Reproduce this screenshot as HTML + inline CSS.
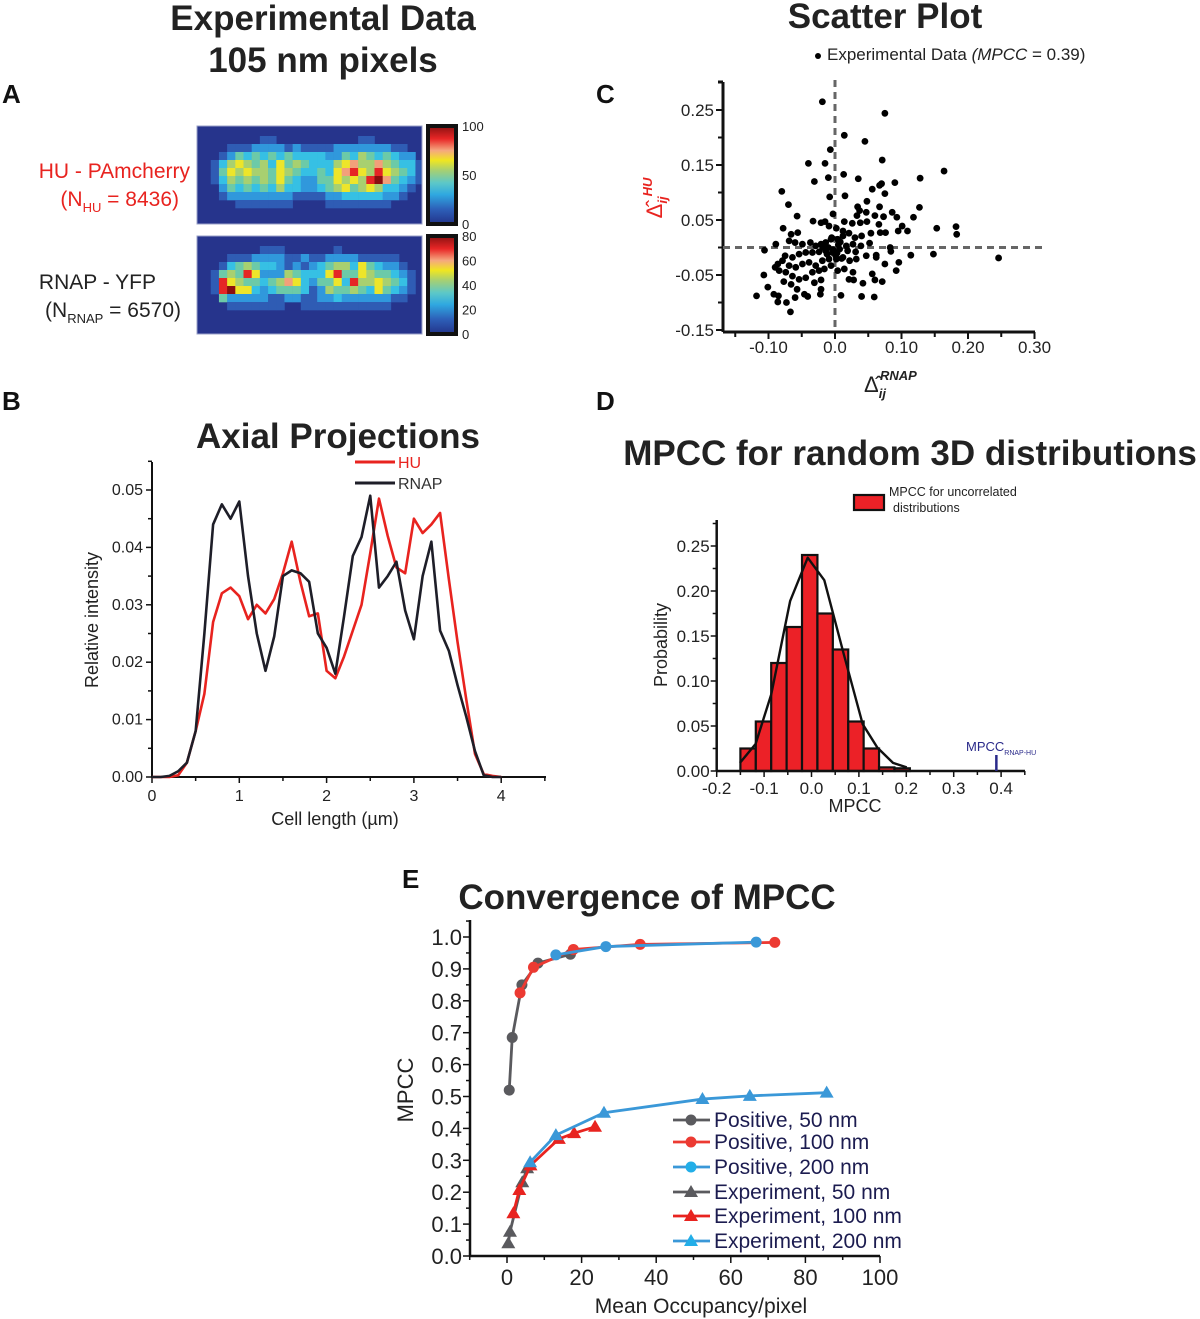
<!DOCTYPE html>
<html><head><meta charset="utf-8">
<style>
html,body{margin:0;padding:0;background:#fff;}
svg{display:block;font-family:"Liberation Sans",sans-serif;}
</style></head>
<body>
<svg id="fig" width="1200" height="1319" viewBox="0 0 1200 1319" xmlns="http://www.w3.org/2000/svg">
<defs>
<linearGradient id="jet" x1="0" y1="1" x2="0" y2="0">
<stop offset="0" stop-color="#23338a"/><stop offset="0.15" stop-color="#2d5fb8"/><stop offset="0.3" stop-color="#2fa8e0"/><stop offset="0.42" stop-color="#5cc8c8"/><stop offset="0.55" stop-color="#a8d070"/><stop offset="0.65" stop-color="#f0e620"/><stop offset="0.75" stop-color="#f5a880"/><stop offset="0.87" stop-color="#e82626"/><stop offset="1" stop-color="#8a1010"/>
</linearGradient>
<clipPath id="clipHU"><rect x="197" y="126" width="225" height="98"/></clipPath>
<clipPath id="clipRNAP"><rect x="197" y="236" width="225" height="98"/></clipPath>
</defs>
<g font-weight="bold" fill="#222" text-anchor="middle" font-size="35">
<text x="323" y="30">Experimental Data</text>
<text x="323" y="72">105 nm pixels</text>
<text x="885" y="28">Scatter Plot</text>
<text x="338" y="448">Axial Projections</text>
<text x="910" y="465">MPCC for random 3D distributions</text>
<text x="647" y="909">Convergence of MPCC</text>
</g>
<g font-weight="bold" fill="#111" font-size="26">
<text x="2" y="103">A</text>
<text x="2" y="410">B</text>
<text x="596" y="103">C</text>
<text x="596" y="410">D</text>
<text x="402" y="888">E</text>
</g>
<g font-size="21" text-anchor="end">
<text x="190" y="178" fill="#e8231f">HU - PAmcherry</text>
<text x="179" y="206" fill="#e8231f">(N<tspan font-size="13" dy="6">HU</tspan><tspan dy="-6"> = 8436)</tspan></text>
<text x="156" y="289" fill="#222">RNAP - YFP</text>
<text x="181" y="317" fill="#222">(N<tspan font-size="13" dy="6">RNAP</tspan><tspan dy="-6"> = 6570)</tspan></text>
</g>
<g id="panelA"></g>
<g id="panelB"></g>
<g id="panelC"></g>
<g id="panelD"></g>
<g id="panelE"></g>
</svg>
<script>
// ---------- Panel A heatmap data (level 0-9 per cell) ----------
const huRows = [
"00000000000000000000000000000000",
"00000000000000000000000000000000",
"00000000001100000000001100000000",
"00000011122221211112222222110000",
"00000124343434333322435434322000",
"00001356545364543335675575433100",
"00001465655465433436786586543100",
"00001354545464322446565897432100",
"00000243434353322345645653321000",
"00000122222222111122333332210000",
"00000001111111000011111111000000",
"00000000000000000000000000000000",
"00000000000000000000000000000000",
"00000000000000000000000000000000"];
const rnapRows = [
"00000000000000000000000000000000",
"00000000000000000000000000000000",
"00000000001110000001000000000000",
"00000011122221121122221111100000",
"00000134543321212345536432210000",
"00001454862225433368446544321000",
"00001865443457632446385565431000",
"00001896632344431254454364321000",
"00000422222112211223222222110000",
"00000011111110011111111111000000",
"00000000000000000000000000000000",
"00000000000000000000000000000000",
"00000000000000000000000000000000",
"00000000000000000000000000000000"];
const huTicks = ["100","50","0"];
const rnapTicks = ["80","60","40","20","0"];
// ---------- Panel B ----------
const bX = [0,0.1,0.2,0.3,0.4,0.5,0.6,0.7,0.8,0.9,1.0,1.1,1.2,1.3,1.4,1.5,1.6,1.7,1.8,1.9,2.0,2.1,2.2,2.3,2.4,2.5,2.6,2.7,2.8,2.9,3.0,3.1,3.2,3.3,3.4,3.5,3.6,3.7,3.8,3.9,4.0];
const huProj = [0,0,0,0.0003,0.0025,0.008,0.0145,0.027,0.032,0.033,0.0315,0.0275,0.030,0.0285,0.031,0.0355,0.041,0.034,0.028,0.0285,0.0185,0.0172,0.021,0.0255,0.030,0.039,0.0485,0.042,0.0365,0.0355,0.045,0.0425,0.044,0.046,0.0345,0.0235,0.0135,0.004,0.0005,0.0002,0];
const rnapProj = [0,0,0.0002,0.001,0.0025,0.008,0.025,0.044,0.0475,0.045,0.048,0.035,0.025,0.0185,0.0245,0.035,0.036,0.0355,0.034,0.025,0.0225,0.018,0.028,0.0385,0.0418,0.049,0.033,0.035,0.0375,0.029,0.024,0.035,0.041,0.0255,0.022,0.016,0.0105,0.0045,0.0003,0,0];
const bYTicks = [0,0.01,0.02,0.03,0.04,0.05];
const bXTicks = [0,1,2,3,4];
// ---------- Panel C ----------
const scX = [-0.019,0.075,0.014,0.045,-0.007,0.071,-0.040,-0.015,0.164,0.013,-0.010,-0.031,0.035,0.090,0.070,0.067,0.128,0.056,-0.080,0.075,-0.008,0.015,-0.070,0.048,0.127,0.067,0.034,0.037,0.086,-0.057,-0.003,0.033,0.047,0.060,0.073,0.118,0.093,-0.033,-0.021,-0.015,0.014,0.026,0.038,0.048,0.066,0.101,0.182,0.153,-0.078,-0.066,-0.056,-0.009,0.002,0.012,0.021,0.030,0.040,0.054,0.068,0.076,0.095,0.109,0.183,-0.089,-0.106,-0.069,-0.060,-0.049,-0.037,-0.029,-0.021,-0.014,-0.006,0.004,0.012,0.017,0.027,0.039,0.052,0.083,0.084,-0.075,-0.064,-0.054,-0.044,-0.034,-0.024,-0.014,-0.004,0.007,0.019,0.031,0.047,0.062,0.114,0.148,0.246,-0.086,-0.079,-0.069,-0.059,-0.049,-0.039,-0.029,-0.019,-0.009,0.002,0.012,0.022,0.032,0.062,0.075,0.096,0.092,-0.090,-0.107,-0.084,-0.074,-0.064,-0.054,-0.044,-0.034,-0.024,-0.016,-0.006,0.004,0.014,0.027,0.021,0.028,0.042,0.056,0.060,0.071,-0.101,-0.077,-0.066,-0.057,-0.046,-0.041,-0.031,-0.021,-0.021,-0.022,0.009,0.040,0.059,-0.118,-0.092,-0.085,-0.086,-0.073,-0.067,-0.060,-0.010,0.005,-0.003,0.008,-0.012,0.001,-0.005,0.010,-0.018,0.003];
const scY = [0.265,0.244,0.204,0.193,0.178,0.159,0.153,0.153,0.139,0.133,0.127,0.120,0.125,0.118,0.116,0.113,0.126,0.106,0.102,0.098,0.092,0.094,0.078,0.084,0.073,0.074,0.074,0.067,0.064,0.057,0.061,0.058,0.064,0.058,0.056,0.055,0.055,0.048,0.045,0.047,0.047,0.044,0.045,0.047,0.042,0.039,0.038,0.035,0.035,0.024,0.027,0.039,0.035,0.030,0.026,0.018,0.021,0.026,0.027,0.027,0.030,0.030,0.024,0.006,-0.005,0.012,0.009,0.006,0.009,0.003,0.006,0.009,0.015,0.015,0.021,0.003,0.006,0.003,0.008,0.000,-0.007,-0.015,-0.018,-0.012,-0.009,-0.009,-0.008,-0.006,-0.009,-0.003,-0.006,-0.008,-0.015,-0.014,-0.014,-0.012,-0.019,-0.030,-0.024,-0.033,-0.036,-0.030,-0.027,-0.033,-0.024,-0.021,-0.021,-0.018,-0.024,-0.021,-0.018,-0.030,-0.027,-0.042,-0.036,-0.050,-0.042,-0.045,-0.052,-0.058,-0.055,-0.045,-0.042,-0.039,-0.033,-0.042,-0.039,-0.045,-0.058,-0.059,-0.065,-0.048,-0.059,-0.062,-0.072,-0.062,-0.067,-0.076,-0.085,-0.089,-0.064,-0.059,-0.076,-0.085,-0.087,-0.089,-0.090,-0.088,-0.085,-0.088,-0.099,-0.100,-0.117,-0.091,0.000,0.005,-0.004,0.010,-0.012,-0.015,0.018,-0.020,0.000,-0.010];
const cYTicks = [0.25,0.15,0.05,-0.05,-0.15];
const cXTicks = [-0.10,0.0,0.10,0.20,0.30];
// ---------- Panel D ----------
const binStart = [-0.150,-0.1175,-0.085,-0.0525,-0.020,0.0125,0.045,0.0775,0.110,0.1425,0.175];
const binProb = [0.025,0.055,0.120,0.160,0.240,0.175,0.135,0.055,0.025,0.004,0.003];
const fitX = [-0.151,-0.118,-0.085,-0.045,-0.008,0.027,0.068,0.108,0.139,0.172,0.201];
const fitY = [0.009,0.030,0.085,0.189,0.237,0.212,0.130,0.052,0.026,0.009,0.004];
const dYTicks = [0,0.05,0.10,0.15,0.20,0.25];
const dXTicks = [-0.2,-0.1,0.0,0.1,0.2,0.3,0.4];
const mpccObserved = 0.39;
// ---------- Panel E ----------
const pos50X=[0.6,1.4,4.0,8.3,17], pos50Y=[0.52,0.685,0.85,0.918,0.946];
const pos100X=[3.5,7.1,17.8,35.7,71.8], pos100Y=[0.825,0.905,0.961,0.977,0.983];
const pos200X=[13.1,26.5,66.8], pos200Y=[0.944,0.970,0.984];
const exp50X=[0.35,0.8,4.1,5.4], exp50Y=[0.040,0.076,0.231,0.275];
const exp100X=[1.7,3.3,6.3,13.9,18,23.6], exp100Y=[0.134,0.207,0.284,0.367,0.385,0.405];
const exp200X=[6.2,13.1,26,52.4,65.1,85.7], exp200Y=[0.294,0.379,0.449,0.492,0.502,0.512];
const eYTicks=[0,0.1,0.2,0.3,0.4,0.5,0.6,0.7,0.8,0.9,1.0];
const eXTicks=[0,20,40,60,80,100];

const NS="http://www.w3.org/2000/svg";
function mk(parent,tag,attrs,text){const e=document.createElementNS(NS,tag);for(const k in attrs)e.setAttribute(k,attrs[k]);if(text!==undefined)e.textContent=text;parent.appendChild(e);return e;}

// ===== Panel A =====
(function(){
const g=document.getElementById('panelA');
const levels=["#26348c","#2f5cb4","#3098dc","#36c0e4","#6ccaa8","#a8d070","#ede52a","#f2a07a","#e52525","#8a0f0f"];
function heat(rows,x0,y0,w,h,clip,name){
  const cg=mk(g,'g',{"clip-path":"url(#"+clip+")"});
  
  
  mk(cg,'rect',{x:x0,y:y0,width:w,height:h,fill:"#26348c"});
  // grid extends slightly beyond frame (clipped)
  const gx=x0-19,gy=y0-6,gw=262,gh=112;
  const nc=rows[0].length,nr=rows.length,cw=gw/nc,ch=gh/nr;
  rows.forEach((r,ri)=>{for(let ci=0;ci<nc;ci++){const v=+r[ci];if(v===0)continue;
    const c=mk(cg,'rect',{x:gx+ci*cw,y:gy+ri*ch,width:cw+0.3,height:ch+0.3,fill:levels[v]});
    
    }});
  mk(g,'rect',{x:x0,y:y0,width:w,height:h,fill:"none",stroke:"#9aa0c8","stroke-width":1});
}
heat(huRows,197,126,225,98,'clipHU','hu-heatmap');
heat(rnapRows,197,236,225,98,'clipRNAP','rnap-heatmap');
function cbar(x,y,w,h,ticks,name){
  const r=mk(g,'rect',{x:x+2,y:y+2,width:w-4,height:h-4,fill:"url(#jet)",stroke:"#111","stroke-width":4});
  
  
  ticks.forEach((t,i)=>{const ty=y+2+i*(h-4)/(ticks.length-1);
    const tx=mk(g,'text',{x:x+w+4,y:ty+5,"font-size":13,fill:"#222"},t);
    
    });
}
cbar(426,124,32,102,huTicks,'hu-colorbar');
cbar(426,234,32,102,rnapTicks,'rnap-colorbar');
})();

// ===== Panel B =====
(function(){
const g=document.getElementById('panelB');
const X0=152,Y0=777,sx=87.3,sy=5740;
const xs=v=>X0+v*sx, ys=v=>Y0-v*sy;
mk(g,'line',{x1:X0,y1:462,x2:X0,y2:Y0,stroke:"#111","stroke-width":2});
mk(g,'line',{x1:X0,y1:Y0,x2:546,y2:Y0,stroke:"#111","stroke-width":2});
for(let v=0;v<=0.055;v+=0.005){mk(g,'line',{x1:X0-(Math.round(v*1000)%10===0?6:4),y1:ys(v),x2:X0,y2:ys(v),stroke:"#111","stroke-width":1.5});}
for(let v=0;v<=4.5;v+=0.5){mk(g,'line',{x1:xs(v),y1:Y0,x2:xs(v),y2:Y0+(v%1===0?6:4),stroke:"#111","stroke-width":1.5});}
bYTicks.forEach(v=>{const t=mk(g,'text',{x:X0-9,y:ys(v)+5,"font-size":16,"text-anchor":"end",fill:"#222"},v.toFixed(2));
 
 });
bXTicks.forEach(v=>{const t=mk(g,'text',{x:xs(v),y:801,"font-size":16,"text-anchor":"middle",fill:"#222"},String(v));
 
 });
const yl=mk(g,'text',{x:98,y:620,"font-size":18,"text-anchor":"middle",fill:"#222",transform:"rotate(-90 98 620)"},"Relative intensity");


const xl=mk(g,'text',{x:335,y:825,"font-size":18,"text-anchor":"middle",fill:"#222"},"Cell length (µm)");


function line(vals,col,name){const p=mk(g,'polyline',{points:bX.map((x,i)=>xs(x)+","+ys(vals[i])).join(" "),fill:"none",stroke:col,"stroke-width":2.6,"stroke-linejoin":"round"});
 
 }
line(huProj,"#e8231f",'hu-projection-line');
line(rnapProj,"#1e1e28",'rnap-projection-line');
mk(g,'line',{x1:355,y1:462,x2:395,y2:462,stroke:"#e8231f","stroke-width":3});
const l1=mk(g,'text',{x:398,y:468,"font-size":16,fill:"#e8231f"},"HU");


mk(g,'line',{x1:355,y1:483,x2:395,y2:483,stroke:"#1e1e28","stroke-width":3});
const l2=mk(g,'text',{x:398,y:489,"font-size":16,fill:"#333"},"RNAP");


})();

// ===== Panel C =====
(function(){
const g=document.getElementById('panelC');
const X0=835,Y0=247.5,sx=665,sy=550,L=723,B=332;
const xs=v=>X0+v*sx, ys=v=>Y0-v*sy;
mk(g,'line',{x1:L,y1:82,x2:L,y2:B,stroke:"#111","stroke-width":3});
mk(g,'line',{x1:L,y1:B,x2:1035,y2:B,stroke:"#111","stroke-width":3});
mk(g,'line',{x1:L-5,y1:82,x2:L,y2:82,stroke:"#111","stroke-width":3});
for(let i=0;i<=8;i++){const v=0.25-i*0.05;mk(g,'line',{x1:L-(i%2===0?7:5),y1:ys(v),x2:L,y2:ys(v),stroke:"#111","stroke-width":2});}
for(let i=-3;i<=6;i++){const v=i*0.05;if(xs(v)<L)continue;mk(g,'line',{x1:xs(v),y1:B,x2:xs(v),y2:B+(i%2===0?7:5),stroke:"#111","stroke-width":2});}
cYTicks.forEach(v=>{const t=mk(g,'text',{x:L-9,y:ys(v)+6,"font-size":17,"text-anchor":"end",fill:"#222"},v.toFixed(2));
 
 });
cXTicks.forEach(v=>{const t=mk(g,'text',{x:xs(v),y:353,"font-size":17,"text-anchor":"middle",fill:"#222"},v===0?"0.0":v.toFixed(2));
 
 });
mk(g,'line',{x1:xs(0),y1:80,x2:xs(0),y2:B,stroke:"#666","stroke-width":3,"stroke-dasharray":"7,5"});
mk(g,'line',{x1:L,y1:ys(0),x2:1046,y2:ys(0),stroke:"#666","stroke-width":3,"stroke-dasharray":"7,5"});
scX.forEach((x,i)=>{const c=mk(g,'circle',{cx:xs(x),cy:ys(scY[i]),r:3.4,fill:"#000"});
 
 });
mk(g,'circle',{cx:818,cy:56,r:3,fill:"#000"});
const lg=mk(g,'text',{x:827,y:60,"font-size":17,fill:"#222"});


lg.innerHTML='Experimental Data <tspan font-style="italic">(MPCC</tspan> = 0.39)';
const yl=mk(g,'text',{x:0,y:0,"font-size":22,fill:"#e8231f",transform:"translate(662,198) rotate(-90)","text-anchor":"middle"});


yl.innerHTML='Δ̂<tspan font-size="13" font-style="italic" font-weight="bold" dy="5">ij</tspan><tspan font-size="13" font-style="italic" font-weight="bold" dy="-15">HU</tspan>';
const xl=mk(g,'text',{x:864,y:392,"font-size":22,fill:"#222"});


xl.innerHTML='Δ̂<tspan font-size="13" font-style="italic" font-weight="bold" dy="6">ij</tspan><tspan font-size="13" font-style="italic" font-weight="bold" dy="-18" dx="-6">RNAP</tspan>';
})();

// ===== Panel D =====
(function(){
const g=document.getElementById('panelD');
const X0=716.7,sx=474,Y0=771,sy=900;
const xs=v=>X0+(v+0.2)*sx, ys=v=>Y0-v*sy;
binStart.forEach((b,i)=>{const w=0.0325;const r=mk(g,'rect',{x:xs(b),y:ys(binProb[i]),width:w*sx,height:binProb[i]*sy,fill:"#ec2127",stroke:"#111","stroke-width":2.2});
 
 });
const f=mk(g,'polyline',{points:fitX.map((x,i)=>xs(x)+","+ys(fitY[i])).join(" "),fill:"none",stroke:"#111","stroke-width":2.4,"stroke-linejoin":"round"});


mk(g,'line',{x1:X0,y1:520,x2:X0,y2:Y0,stroke:"#111","stroke-width":2.5});
mk(g,'line',{x1:X0,y1:Y0,x2:1025,y2:Y0,stroke:"#111","stroke-width":2.5});
for(let i=0;i<=11;i++){const v=i*0.025;mk(g,'line',{x1:X0-(i%2===0?6:4),y1:ys(v),x2:X0,y2:ys(v),stroke:"#111","stroke-width":1.5});}
for(let i=0;i<=13;i++){const v=-0.2+i*0.05;mk(g,'line',{x1:xs(v),y1:Y0,x2:xs(v),y2:Y0+(i%2===0?6:4),stroke:"#111","stroke-width":1.5});}
dYTicks.forEach(v=>{const t=mk(g,'text',{x:X0-7,y:ys(v)+6,"font-size":17,"text-anchor":"end",fill:"#222"},v.toFixed(2));
 
 });
dXTicks.forEach(v=>{const t=mk(g,'text',{x:xs(v),y:794,"font-size":17,"text-anchor":"middle",fill:"#222"},v.toFixed(1));
 
 });
const xl=mk(g,'text',{x:855,y:812,"font-size":18,"text-anchor":"middle",fill:"#222"},"MPCC");


const yl=mk(g,'text',{x:0,y:0,"font-size":18,"text-anchor":"middle",fill:"#222",transform:"translate(667,645) rotate(-90)"},"Probability");


mk(g,'rect',{x:854,y:495,width:30,height:15,fill:"#ec2127",stroke:"#111","stroke-width":2.2});
const lt=mk(g,'text',{x:889,y:496,"font-size":12.5,fill:"#222"},"MPCC for uncorrelated");


mk(g,'text',{x:893,y:512,"font-size":12.5,fill:"#222"},"distributions");
mk(g,'line',{x1:xs(mpccObserved),y1:755,x2:xs(mpccObserved),y2:Y0,stroke:"#2a2a8a","stroke-width":2.5});
const mt=mk(g,'text',{x:966,y:751,"font-size":13,fill:"#2a2a8a"});


mt.innerHTML='MPCC<tspan font-size="7" dy="4">RNAP-HU</tspan>';
})();

// ===== Panel E =====
(function(){
const g=document.getElementById('panelE');
const X0=507,sx=3.73,Y0=1256,sy=319,L=470;
const xs=v=>X0+v*sx, ys=v=>Y0-v*sy;
mk(g,'line',{x1:L,y1:920,x2:L,y2:Y0,stroke:"#111","stroke-width":2.5});
mk(g,'line',{x1:L,y1:Y0,x2:880,y2:Y0,stroke:"#111","stroke-width":2.5});
for(let i=0;i<=21;i++){const v=i*0.05;mk(g,'line',{x1:L-(i%2===0?7:4),y1:ys(v),x2:L,y2:ys(v),stroke:"#111","stroke-width":1.5});}
for(let i=-1;i<=10;i++){const v=i*10;mk(g,'line',{x1:xs(v),y1:Y0,x2:xs(v),y2:Y0+(i%2===0?7:4),stroke:"#111","stroke-width":1.5});}
eYTicks.forEach(v=>{const t=mk(g,'text',{x:L-8,y:ys(v)+8,"font-size":22,"text-anchor":"end",fill:"#222"},v.toFixed(1));
 
 });
eXTicks.forEach(v=>{const t=mk(g,'text',{x:xs(v),y:1285,"font-size":22,"text-anchor":"middle",fill:"#222"},String(v));
 
 });
const xl=mk(g,'text',{x:701,y:1313,"font-size":21,"text-anchor":"middle",fill:"#222"},"Mean Occupancy/pixel");


const yl=mk(g,'text',{x:0,y:0,"font-size":22,"text-anchor":"middle",fill:"#222",transform:"translate(413,1090) rotate(-90)"},"MPCC");


function marker(par,x,y,shape,col){
 if(shape==='c') return mk(par,'circle',{cx:x,cy:y,r:5.5,fill:col});
 return mk(par,'polygon',{points:`${x},${y-7} ${x-7},${y+5} ${x+7},${y+5}`,fill:col});
}
function series(xa,ya,col,shape,name){
 const sg=mk(g,'g',{});
 
 
 mk(sg,'polyline',{points:xa.map((x,i)=>xs(x)+","+ys(ya[i])).join(" "),fill:"none",stroke:col,"stroke-width":2.8});
 xa.forEach((x,i)=>{const m=marker(sg,xs(x),ys(ya[i]),shape,col);
  
  });
}
series(exp50X,exp50Y,"#5a5a5e",'t','experiment-50nm');
series(exp100X,exp100Y,"#e8231f",'t','experiment-100nm');
series(exp200X,exp200Y,"#3a98d8",'t','experiment-200nm');
series(pos50X,pos50Y,"#5a5a5e",'c','positive-50nm');
series(pos100X,pos100Y,"#ec3a32",'c','positive-100nm');
series(pos200X,pos200Y,"#3a98d8",'c','positive-200nm');
const leg=[["Positive, 50 nm","#5a5a5e","#5a5a5e",'c',1120],["Positive, 100 nm","#ec3a32","#ec3a32",'c',1142],["Positive, 200 nm","#3a98d8","#22aee8",'c',1167],["Experiment, 50 nm","#5a5a5e","#5a5a5e",'t',1192],["Experiment, 100 nm","#e8231f","#e8231f",'t',1216],["Experiment, 200 nm","#3a98d8","#22aee8",'t',1241]];
leg.forEach(l=>{
 const lg=mk(g,'g',{});
 
 
 mk(lg,'line',{x1:673,y1:l[4],x2:710,y2:l[4],stroke:l[1],"stroke-width":2.8});
 marker(lg,691,l[4],l[3],l[2]);
 mk(lg,'text',{x:714,y:l[4]+7,"font-size":21,fill:"#1c1c50"},l[0]);
});
})();
</script>
</body></html>
